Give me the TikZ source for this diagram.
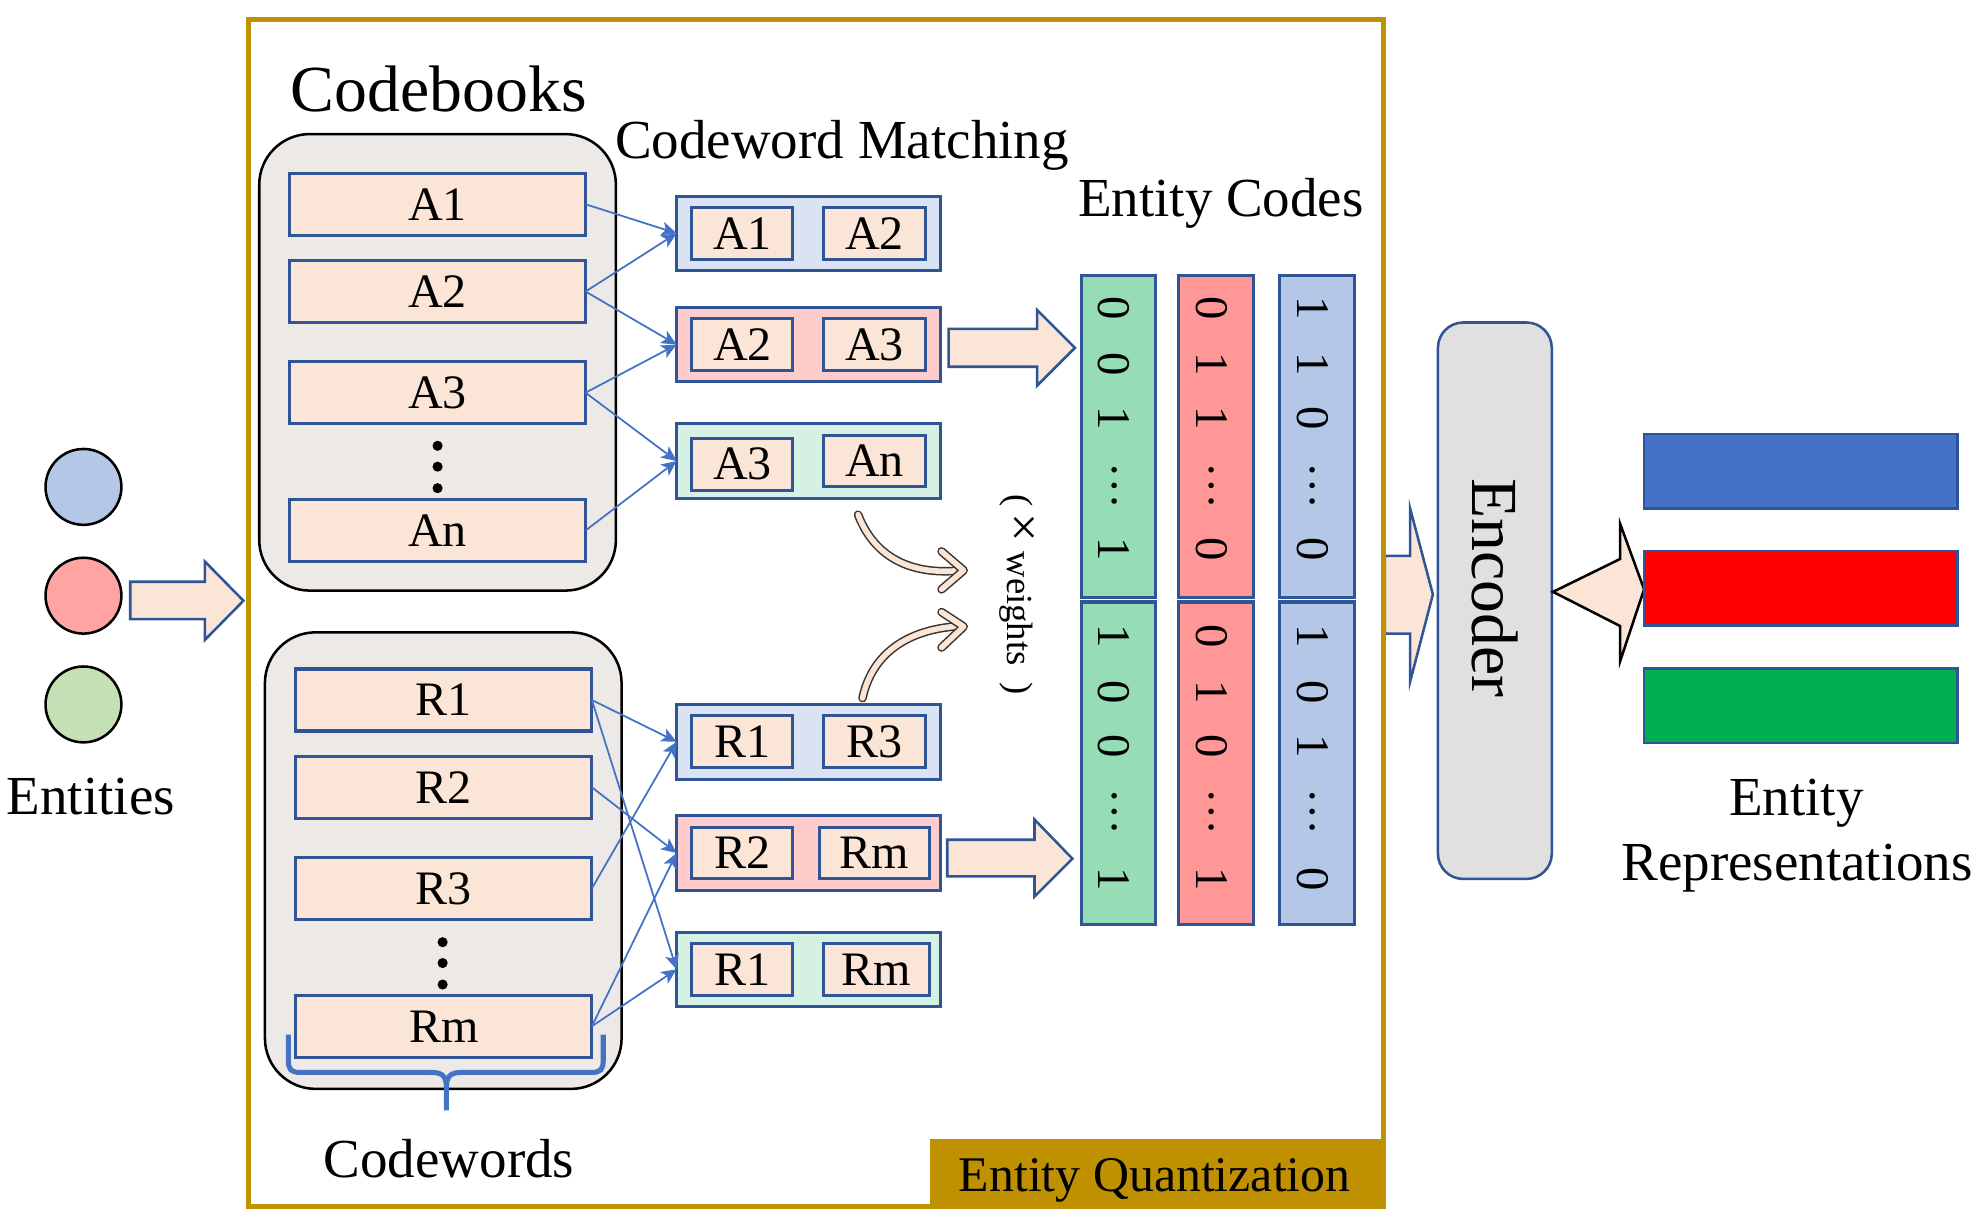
\documentclass[tikz,border=0pt]{standalone}
\usepackage{fontspec}
\setmainfont{Liberation Serif}
\usetikzlibrary{arrows.meta}
\definecolor{gold}{HTML}{BF9000}
\definecolor{peach}{HTML}{FBE5D6}
\definecolor{bordblue}{HTML}{2F5597}
\definecolor{connblue}{HTML}{4472C4}
\definecolor{bookgray}{HTML}{ECE9E6}
\definecolor{mblue}{HTML}{DAE3F3}
\definecolor{mpink}{HTML}{FFCCCC}
\definecolor{mmint}{HTML}{D5F1E3}
\definecolor{cgreen}{HTML}{96DCB4}
\definecolor{cred}{HTML}{FF9797}
\definecolor{cblue}{HTML}{B4C7E7}
\definecolor{encgray}{HTML}{E0E0E0}
\definecolor{circpink}{HTML}{FFA3A3}
\definecolor{circgreen}{HTML}{C5E0B4}
\definecolor{barred}{HTML}{FF0000}
\definecolor{bargreen}{HTML}{00B050}
\definecolor{curveout}{HTML}{3A3330}
\begin{document}
\begin{tikzpicture}[x=0.5pt,y=-0.5pt,
  entrybox/.style={draw=bordblue, fill=peach, line width=1.2pt, minimum width=117pt, minimum height=24.5pt, inner sep=0pt, outer sep=0pt, font=\fontsize{19}{22}\selectfont},
  inbox/.style={entrybox, minimum width=40pt, minimum height=20.5pt},
  matchbox/.style={draw=bordblue, line width=1.2pt, minimum width=104.5pt, minimum height=29.5pt, inner sep=0pt, outer sep=0pt},
  bookbox/.style={draw=black, fill=bookgray, line width=1pt, rounded corners=20pt, minimum width=141pt, minimum height=180.5pt, inner sep=0pt},
  codecol/.style={draw=bordblue, line width=1.2pt, minimum width=29.5pt, minimum height=127.5pt, inner sep=0pt},
  digit/.style={rotate=-90, font=\fontsize{18.5}{20}\selectfont, inner sep=0pt},
  conn/.style={draw=connblue, line width=0.7pt, -{Stealth[length=6pt,width=5.5pt,inset=1.5pt]}},
  blockarrow/.style={draw=bordblue, fill=peach, line width=1pt, line join=miter},
  curvy/.style={draw=curveout, double=peach, double distance=2.2pt, line width=0.6pt, line cap=round, line join=round},
  heading/.style={font=\fontsize{21.75}{24}\selectfont, inner sep=0pt, anchor=base west},
  headingc/.style={font=\fontsize{21.75}{24}\selectfont, inner sep=0pt, anchor=base},
  dotc/.style={circle, fill=black, inner sep=0pt, minimum size=4pt},
  bracestyle/.style={draw=connblue, line width=2pt},
  entcirc/.style={circle, draw=black, line width=1pt, minimum size=30pt, inner sep=0pt},
  reprbar/.style={draw=bordblue, line width=1pt, minimum width=124pt, minimum height=29.5pt, inner sep=0pt}
]
\useasboundingbox (0,0) rectangle (1568,968.6);

% arrow into encoder (under the frame)
\draw[blockarrow] (1095,439.5) -- (1115,439.5) -- (1115,402) -- (1133,470) -- (1115,539) -- (1115,501) -- (1095,501) -- cycle;

% frame
\node[draw=gold, line width=2.25pt, minimum width=448.75pt, minimum height=469.25pt, inner sep=0pt] (frame) at (645.25,484.75) {};
\node[fill=gold, minimum width=179.5pt, minimum height=26.5pt, inner sep=0pt] (eqbox) at (914.5,927.5) {};
\node[font=\fontsize{19.7}{22}\selectfont, inner sep=0pt, anchor=base] (eqtext) at (913,942) {Entity Quantization};

% titles
\node[font=\fontsize{26}{30}\selectfont, inner sep=0pt, anchor=base] (tcb) at (347,88.5) {Codebooks};
\node[heading] (tcm) at (486,125) {Codeword Matching};
\node[heading] (tec) at (852,171) {Entity Codes};
\node[heading] (tent) at (5,644) {Entities};
\node[headingc] (tcw) at (355,931) {Codewords};
\node[headingc] (trep1) at (1420.5,644.5) {Entity};
\node[headingc] (trep2) at (1421,696.5) {Representations};

% entities
\node[entcirc, fill=cblue] (E1) at (66,385) {};
\node[entcirc, fill=circpink] (E2) at (66,471) {};
\node[entcirc, fill=circgreen] (E3) at (66,557) {};
\draw[blockarrow] (103,460) -- (162,460) -- (162,444) -- (192.5,475) -- (162,506) -- (162,489.5) -- (103,489.5) -- cycle;

% codebooks
\node[bookbox] (B1) at (346,286.5) {};
\node[bookbox] (B2) at (350.5,680.5) {};
\node[entrybox] (A1) at (346,161.5) {\raisebox{-1pt}{A1}};
\node[entrybox] (A2) at (346,230.5) {\raisebox{-1pt}{A2}};
\node[entrybox] (A3) at (346,310.5) {\raisebox{-1pt}{A3}};
\node[entrybox] (An) at (346,419.5) {\raisebox{-1pt}{An}};
\node[dotc] (d1) at (346,352.5) {};
\node[dotc] (d2) at (346,369) {};
\node[dotc] (d3) at (346,386) {};
\node[entrybox] (R1) at (351,553.5) {\raisebox{-1pt}{R1}};
\node[entrybox] (R2) at (351,622.5) {\raisebox{-1pt}{R2}};
\node[entrybox] (R3) at (351,702.5) {\raisebox{-1pt}{R3}};
\node[entrybox] (Rm) at (351,811.5) {\raisebox{-1pt}{Rm}};
\node[dotc] (d4) at (350,745) {};
\node[dotc] (d5) at (350,761.5) {};
\node[dotc] (d6) at (350,778.5) {};

% brace
\draw[bracestyle] (228,818) -- (228,838) .. controls (228,846) and (230,848) .. (238,848) -- (341,848) .. controls (350,848) and (353,851) .. (353,860) -- (353,878);
\draw[bracestyle] (477,818) -- (477,838) .. controls (477,846) and (475,848) .. (467,848) -- (365,848) .. controls (356,848) and (353,851) .. (353,860);

% matching boxes
\node[matchbox, fill=mblue] (M1) at (639.5,184.5) {};
\node[matchbox, fill=mpink] (M2) at (639.5,272.5) {};
\node[matchbox, fill=mmint] (M3) at (639.5,364.5) {};
\node[matchbox, fill=mblue] (M4) at (639.5,586.5) {};
\node[matchbox, fill=mpink] (M5) at (639.5,674.5) {};
\node[matchbox, fill=mmint] (M6) at (639.5,766.5) {};
\node[inbox] (m1a) at (587,184.5) {\raisebox{-1pt}{A1}};
\node[inbox] (m1b) at (691.5,184.5) {\raisebox{-1pt}{A2}};
\node[inbox] (m2a) at (587,272.5) {\raisebox{-1pt}{A2}};
\node[inbox] (m2b) at (691.5,272.5) {\raisebox{-1pt}{A3}};
\node[inbox] (m3a) at (587,367) {\raisebox{-1pt}{A3}};
\node[inbox] (m3b) at (691.5,364.5) {An};
\node[inbox] (m4a) at (587,586.5) {\raisebox{-1pt}{R1}};
\node[inbox] (m4b) at (691.5,586.5) {\raisebox{-1pt}{R3}};
\node[inbox] (m5a) at (587,674.5) {\raisebox{-1pt}{R2}};
\node[inbox, minimum width=43.5pt] (m5b) at (691.5,674.5) {\raisebox{-1pt}{Rm}};
\node[inbox] (m6a) at (587,766.5) {\raisebox{-1pt}{R1}};
\node[inbox, minimum width=42pt] (m6b) at (693,766.5) {\raisebox{-1pt}{Rm}};

% connectors
\draw[conn] (A1.east) -- (M1.west);
\draw[conn] (A2.east) -- (M1.west);
\draw[conn] (A2.east) -- (M2.west);
\draw[conn] (A3.east) -- (M2.west);
\draw[conn] (A3.east) -- (M3.west);
\draw[conn] (An.east) -- (M3.west);
\draw[conn] (R1.east) -- (M4.west);
\draw[conn] (R1.east) -- (M6.west);
\draw[conn] (R2.east) -- (M5.west);
\draw[conn] (R3.east) -- (M4.west);
\draw[conn] (Rm.east) -- (M5.west);
\draw[conn] (Rm.east) -- (M6.west);

% block arrows to codes
\draw[blockarrow] (750,260) -- (820,260) -- (820,245) -- (850,275) -- (820,305) -- (820,290) -- (750,290) -- cycle;
\draw[blockarrow] (749,664) -- (818,664) -- (818,648) -- (848,679) -- (818,709) -- (818,693) -- (749,693) -- cycle;

% curved arrows
\draw[curvy] (678.5,407) .. controls (692,442) and (722,455) .. (760,451);
\draw[curvy] (744.5,436) -- (762,451) -- (744.5,466);
\draw[curvy] (682,552) .. controls (690,515) and (720,497) .. (760,495);
\draw[curvy] (744.5,484) -- (762,495.5) -- (744.5,512);
\node[rotate=-90, font=\fontsize{14.5}{16}\selectfont, inner sep=0pt] (wts) at (804,470) {(\hspace{0.2em}{\fontsize{20}{20}\selectfont ×}\hspace{0.25em}weights\hspace{0.45em})};

% entity codes
\node[codecol, fill=cgreen] (G1) at (884.5,345) {};
\node[codecol, fill=cgreen] (G2) at (884.5,603.5) {};
\node[codecol, fill=cred] (D1) at (961.5,345) {};
\node[codecol, fill=cred] (D2) at (961.5,603.5) {};
\node[codecol, fill=cblue] (L1) at (1041.5,345) {};
\node[codecol, fill=cblue] (L2) at (1041.5,603.5) {};

\foreach \x/\a/\b/\c/\d/\e/\f/\g/\h [count=\i] in
  {881/0/0/1/1/1/0/0/1, 958/0/1/1/0/0/1/0/1, 1038/1/1/0/0/1/0/1/0}{
  \node[digit] (t\i a) at (\x,244) {\a};
  \node[digit] (t\i b) at (\x,288) {\b};
  \node[digit] (t\i c) at (\x,331) {\c};
  \node[digit] (t\i e) at (\x,384) {…};
  \node[digit] (t\i d) at (\x,434) {\d};
  \node[digit] (b\i a) at (\x,503) {\e};
  \node[digit] (b\i b) at (\x,547) {\f};
  \node[digit] (b\i c) at (\x,590) {\g};
  \node[digit] (b\i e) at (\x,642) {…};
  \node[digit] (b\i d) at (\x,695) {\h};
}

% encoder
\node[draw=bordblue, fill=encgray, line width=1pt, rounded corners=10pt, minimum width=45pt, minimum height=220pt, inner sep=0pt] (Enc) at (1182,475) {};
\node[rotate=-90, font=\fontsize{26}{30}\selectfont, inner sep=0pt] (enctext) at (1182,465) {Encoder};

% arrow to representations
\draw[fill=peach, draw=black, line width=1pt, line join=miter] (1228,468) -- (1281,442) -- (1281,414) -- (1300,466) -- (1281,523) -- (1281,495) -- cycle;

% representation bars
\node[reprbar, fill=connblue] (V1) at (1424,372.5) {};
\node[reprbar, fill=barred] (V2) at (1424,465) {};
\node[reprbar, fill=bargreen] (V3) at (1424,558) {};
\end{tikzpicture}
\end{document}
